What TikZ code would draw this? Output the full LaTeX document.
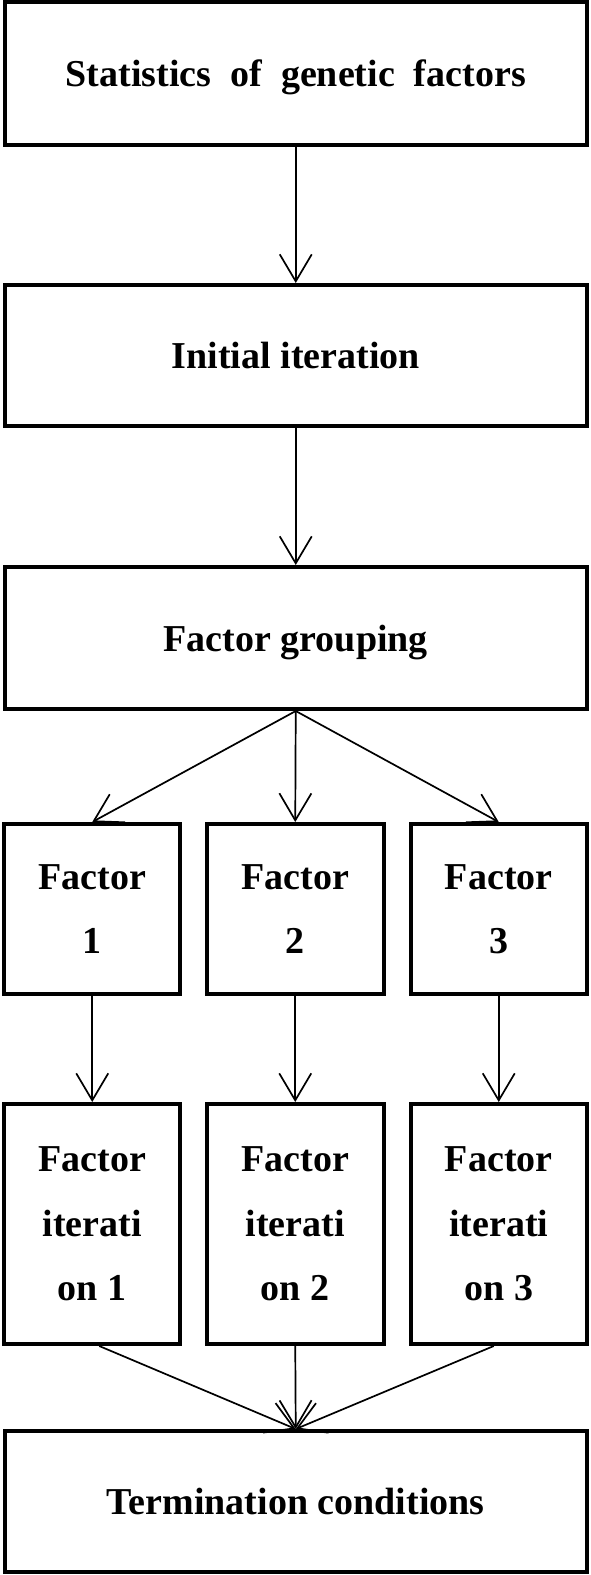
\documentclass[tikz,border=0pt]{standalone}
\usepackage{fontspec}
\setmainfont{Liberation Serif}
\usetikzlibrary{arrows.meta}
\begin{document}
\begin{tikzpicture}[x=1pt,y=-1pt,
  box/.style={draw=black,line width=4pt,align=center,inner sep=0pt,
    font=\fontsize{38}{64.5}\selectfont\bfseries},
  wide/.style={box,text depth=-4pt,minimum width=581.5pt},
  narrow/.style={box,text depth=-10pt,minimum width=176pt},
  conn/.style={line width=1.7pt,-{Straight Barb[length=27pt,width=32pt,line width=1.7pt]}}
]
\useasboundingbox (0,0) rectangle (591,1575);
\node[wide,minimum height=142.5pt] (b1) at (295.75,73.25) {Statistics\ \ of\ \ genetic\ \ factors};
\node[wide,minimum height=141pt] (b2) at (295.75,355.5) {Initial iteration};
\node[wide,minimum height=142pt] (b3) at (295.75,638) {Factor grouping};
\node[narrow,minimum height=170pt] (f1) at (92.25,909) {Factor\\1};
\node[narrow,minimum height=170pt,minimum width=177.5pt] (f2) at (295.25,909) {Factor\\2};
\node[narrow,minimum height=170pt] (f3) at (498.75,909) {Factor\\3};
\node[narrow,minimum height=240pt] (i1) at (92.25,1224) {Factor\\iterati\\on 1};
\node[narrow,minimum height=240pt,minimum width=177.5pt] (i2) at (295.25,1224) {Factor\\iterati\\on 2};
\node[narrow,minimum height=240pt] (i3) at (498.75,1224) {Factor\\iterati\\on 3};
\node[wide,minimum height=141pt] (t) at (295.75,1501.5) {Termination conditions};
\draw[conn] (b1.south) -- (b2.north);
\draw[conn] (b2.south) -- (b3.north);
\draw[conn] (b3.south) -- (f1.north);
\draw[conn] (b3.south) -- (f2.north);
\draw[conn] (b3.south) -- (f3.north);
\draw[conn] (f1.south) -- (i1.north);
\draw[conn] (f2.south) -- (i2.north);
\draw[conn] (f3.south) -- (i3.north);
\draw[conn] ([xshift=7pt]i1.south) -- (t.north);
\draw[conn] (i2.south) -- (t.north);
\draw[conn] ([xshift=-5pt]i3.south) -- (t.north);
\end{tikzpicture}
\end{document}
